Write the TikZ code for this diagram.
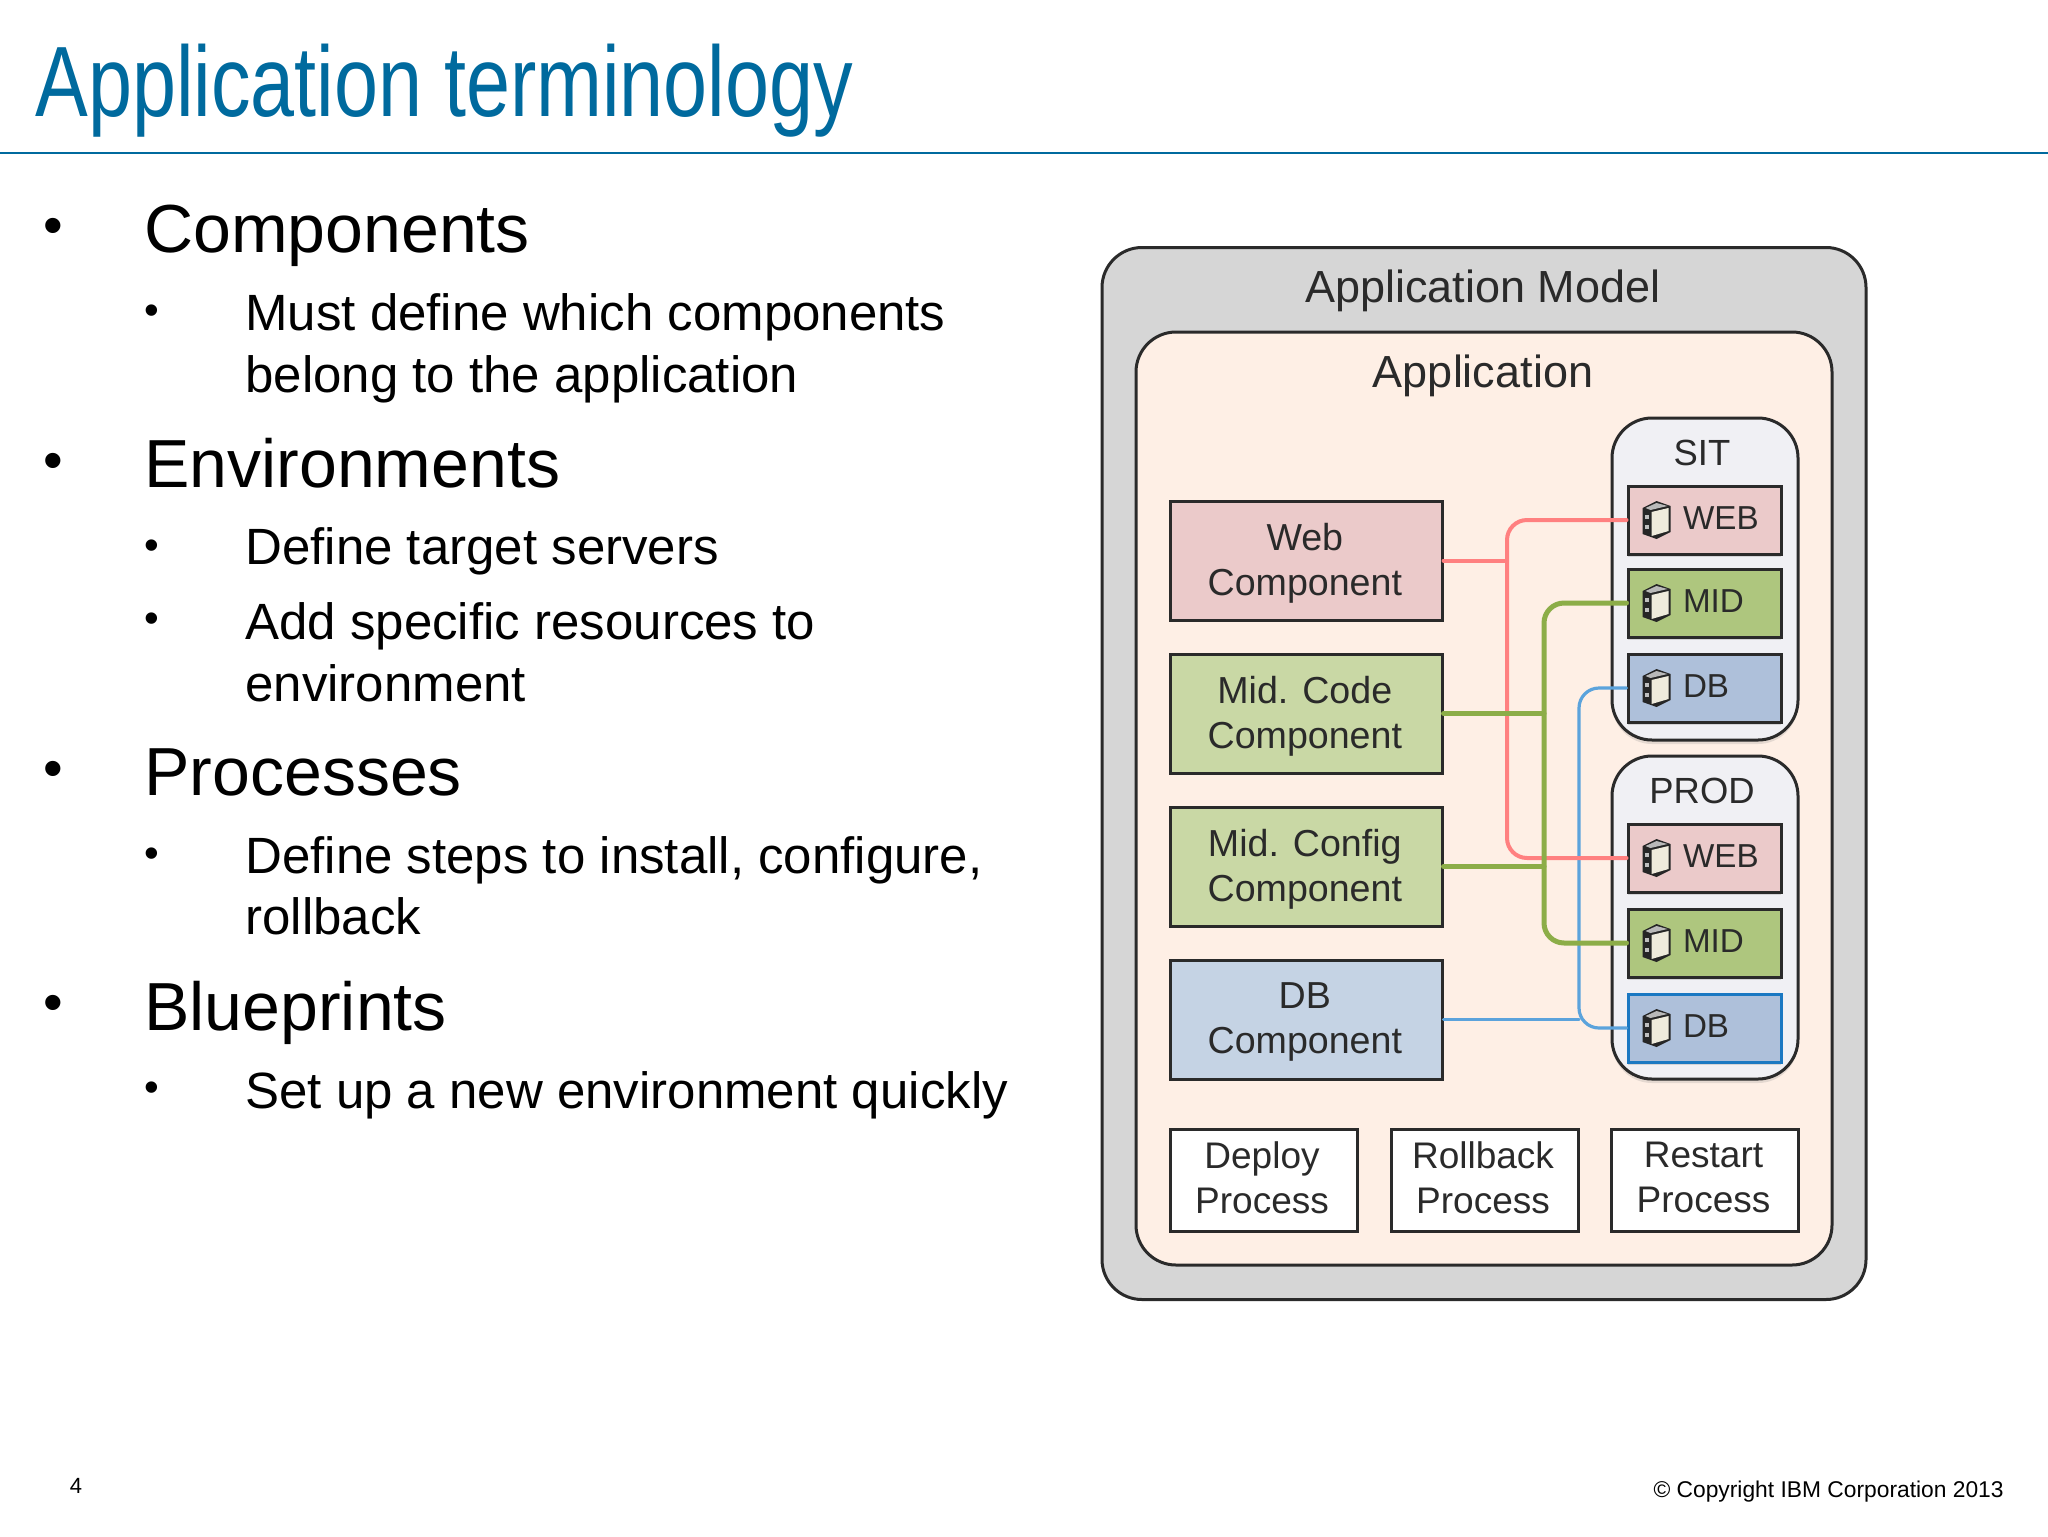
\documentclass[tikz,border=0pt]{standalone}
\usepackage{fontspec}
\setmainfont{Liberation Sans}
\usetikzlibrary{shadows}
\definecolor{ibmblue}{HTML}{006A9E}
\definecolor{ink}{HTML}{2A2A2A}
\definecolor{modelfill}{HTML}{D6D6D6}
\definecolor{appfill}{HTML}{FEEFE5}
\definecolor{envfill}{HTML}{F0F0F4}
\definecolor{webfill}{HTML}{EBCACA}
\definecolor{midfill}{HTML}{C9D8A5}
\definecolor{midsrv}{HTML}{AEC67E}
\definecolor{dbfill}{HTML}{C5D3E4}
\definecolor{dbsrv}{HTML}{AEC0DA}
\definecolor{redline}{HTML}{FF8080}
\definecolor{greenline}{HTML}{8CAD48}
\definecolor{blueline}{HTML}{5BA3DC}
\definecolor{dbedge}{HTML}{1A78C2}
\definecolor{cubeface}{HTML}{EFEBDC}
\newcommand{\srvlabel}[1]{\makebox[76.5pt][l]{\hspace{27.5pt}\raisebox{1pt}[\height][\depth]{#1}}}
\tikzset{
  lone/.style={font=\fontsize{34}{34}\selectfont,anchor=base west,inner sep=0pt,text=black},
  ltwo/.style={font=\fontsize{25.5}{25.5}\selectfont,anchor=base west,inner sep=0pt,text=black},
  bone/.style={font=\fontsize{28}{28}\selectfont,anchor=base,inner sep=0pt,text=black},
  btwo/.style={font=\fontsize{21}{21}\selectfont,anchor=base,inner sep=0pt,text=black},
  caption/.style={font=\fontsize{22.5}{22.5}\selectfont,inner sep=0pt,text=ink},
  envcap/.style={font=\fontsize{18.2}{18.2}\selectfont,inner sep=0pt,text=ink},
  container/.style={draw=ink,line width=1.5pt,rounded corners=#1,inner sep=0pt},
  comp/.style={draw=ink,line width=1.5pt,minimum width=136pt,minimum height=59.5pt,inner sep=0pt},
  comptext/.style={inner sep=0pt,align=center,text=ink,font=\fontsize{18.8}{22.5}\selectfont,yshift=-1.25pt,xshift=-0.6pt},
  proc/.style={draw=ink,line width=1.5pt,fill=white,minimum width=93.5pt,minimum height=51pt,inner sep=0pt},
  proctext/.style={inner sep=0pt,align=center,text=ink,font=\fontsize{18.5}{22.5}\selectfont,yshift=1.25pt,xshift=-0.75pt},
  srv/.style={draw=ink,line width=1.5pt,minimum width=76.5pt,minimum height=34pt,inner sep=0pt,text=ink,font=\fontsize{16.6}{16.6}\selectfont,drop shadow={opacity=.25,shadow xshift=0pt,shadow yshift=-1.5pt}},
  link/.style={rounded corners=10pt,line cap=round},
  redlink/.style={link,draw=redline,line width=2pt},
  greenlink/.style={link,draw=greenline,line width=2.5pt},
  bluelink/.style={link,draw=blueline,line width=1.6pt},
  cubeicon/.pic={
    \fill[black!85] (16,-12)--(30,-19)--(44,-14)--(44,12)--(30,19)--(16,14)--cycle;
    \fill[gray!55] (19,-12)--(30,-17)--(41,-14)--(24,-10)--cycle;
    \fill[cubeface] (25,-8)--(42,-12)--(42,11)--(25,16)--cycle;
    \fill[gray!50] (18,-5) rectangle (22,-1);
    \fill[gray!50] (18,5) rectangle (22,9);
  }
}
\begin{document}
\begin{tikzpicture}[x=0.5pt,y=-0.5pt]
\useasboundingbox (0,0) rectangle (2048,1536);
\fill[white] (0,0) rectangle (2048,1536);
% title
\node[anchor=base west,inner sep=0pt,text=ibmblue,font=\fontsize{50}{50}\selectfont] (title) at (35,117) {\scalebox{0.791}[1]{Application terminology}};
\coordinate (ruleL) at (0,153);
\coordinate (ruleR) at (2048,153);
\draw[ibmblue,line width=1pt] (ruleL) -- (ruleR);
% bullets
\node[bone] (b1) at (53,244) {•};
\node[lone] (t1) at (144,252) {Components};
\node[btwo] (b2) at (152,324) {•};
\node[ltwo] (t2) at (245,330) {Must define which components};
\node[ltwo] (t3) at (245,392) {belong to the application};
\node[bone] (b3) at (53,479) {•};
\node[lone] (t4) at (144,487) {Environments};
\node[btwo] (b4) at (152,559) {•};
\node[ltwo] (t5) at (245,564) {Define target servers};
\node[btwo] (b5) at (152,632) {•};
\node[ltwo] (t6) at (245,639) {Add specific resources to};
\node[ltwo] (t7) at (245,701) {environment};
\node[bone] (b6) at (53,787) {•};
\node[lone] (t8) at (144,795) {Processes};
\node[btwo] (b7) at (152,867) {•};
\node[ltwo] (t9) at (245,873) {Define steps to install, configure,};
\node[ltwo] (t10) at (245,934) {rollback};
\node[bone] (b8) at (53,1021) {•};
\node[lone] (t11) at (144,1030) {Blueprints};
\node[btwo] (b9) at (152,1101) {•};
\node[ltwo] (t12) at (245,1108) {Set up a new environment quickly};
% footer
\node[anchor=base,inner sep=0pt,font=\fontsize{11}{11}\selectfont] (pageno) at (76,1493) {4};
\node[anchor=base east,inner sep=0pt,font=\fontsize{11.4}{11.4}\selectfont] (copy) at (2004,1497) {© Copyright IBM Corporation 2013};
% containers
\node[container=20pt,fill=modelfill,minimum width=382pt,minimum height=526pt] (model) at (1484,773.5) {};
\node[container=20pt,fill=appfill,minimum width=348pt,minimum height=466.5pt] (app) at (1484,798.5) {};
\node[container=20pt,fill=envfill,minimum width=93pt,minimum height=161pt,drop shadow={opacity=.2,shadow xshift=0pt,shadow yshift=-2pt}] (sit) at (1705,579) {};
\node[container=20pt,fill=envfill,minimum width=93pt,minimum height=161.5pt,drop shadow={opacity=.2,shadow xshift=0pt,shadow yshift=-2pt}] (prod) at (1705,917.5) {};
\node[caption] (modelcap) at (1483,291) {Application Model};
\node[caption] (appcap) at (1483,376) {Application};
\node[envcap] (sitcap) at (1702,453) {SIT};
\node[envcap] (prodcap) at (1702,791) {PROD};
% components
\node[comp,fill=webfill,label={[comptext]center:Web\\Component}] (web) at (1306,560.5) {};
\node[comp,fill=midfill,label={[comptext]center:Mid. Code\\Component}] (midcode) at (1306,713.5) {};
\node[comp,fill=midfill,label={[comptext]center:Mid. Config\\Component}] (midcfg) at (1306,866.5) {};
\node[comp,fill=dbfill,label={[comptext]center:DB\\Component}] (dbc) at (1306,1019.5) {};
% servers
\node[srv,fill=webfill] (sweb) at (1704.5,520) {\srvlabel{WEB}};
\node[srv,fill=midsrv] (smid) at (1704.5,603) {\srvlabel{MID}};
\node[srv,fill=dbsrv] (sdb) at (1704.5,688) {\srvlabel{DB}};
\node[srv,fill=webfill] (pweb) at (1704.5,858) {\srvlabel{WEB}};
\node[srv,fill=midsrv] (pmid) at (1704.5,943) {\srvlabel{MID}};
\node[srv,fill=dbsrv,draw=dbedge] (pdb) at (1704.5,1028) {\srvlabel{DB}};
% processes
\node[proc,label={[proctext]center:Deploy\\Process}] (deploy) at (1263.5,1180) {};
\node[proc,label={[proctext]center:Rollback\\Process}] (rollback) at (1484.5,1180) {};
\node[proc,label={[proctext]center:Restart\\Process}] (restart) at (1705,1180) {};
% connectors
\coordinate (busR) at (1507,0);
\coordinate (busG) at (1544,0);
\coordinate (busB) at (1579,0);
\draw[bluelink] (dbc.east) -- (dbc.east -| busB);
\draw[bluelink] (sdb.west) -| (busB |- pdb.west) -- (pdb.west);
\draw[redlink] (web.east) -- (web.east -| busR);
\draw[redlink] (sweb.west) -| (busR |- pweb.west) -- (pweb.west);
\draw[greenlink] (midcode.east) -- (midcode.east -| busG);
\draw[greenlink] (midcfg.east) -- (midcfg.east -| busG);
\draw[greenlink] (smid.west) -| (busG |- pmid.west) -- (pmid.west);
% server icons
\foreach \n in {sweb,smid,sdb,pweb,pmid,pdb} \pic at (\n.west) {cubeicon};
\end{tikzpicture}
\end{document}
